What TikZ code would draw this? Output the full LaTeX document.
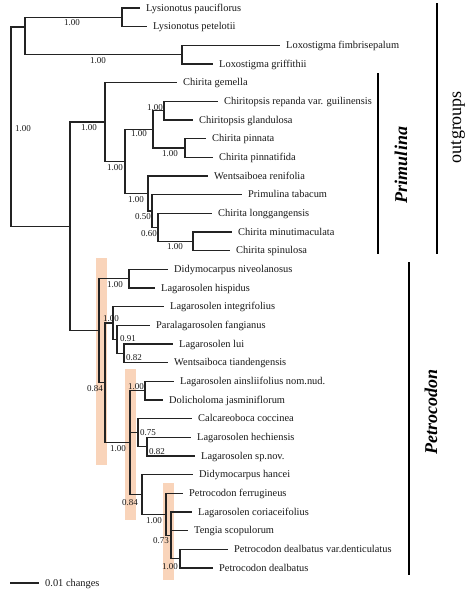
\documentclass[tikz,border=0pt]{standalone}
\usepackage{fontspec}
\setmainfont{Liberation Serif}
\newcommand\taxfont{\fontsize{10.4}{12}\selectfont}
\newcommand\supportfont{\fontsize{9}{10}\selectfont}
\newcommand\cladefont{\fontsize{18}{20}\selectfont}
\definecolor{linec}{RGB}{35,35,35}
\definecolor{txtc}{RGB}{25,25,25}
\definecolor{hlc}{RGB}{249,212,186}
\tikzset{
  br/.style={draw=linec, line width=1.1pt},
  taxon/.style={anchor=west, inner sep=0pt, font=\taxfont, text=txtc, text height=6.5pt, text depth=0pt},
  bsupport/.style={inner sep=0pt, font=\supportfont, text=txtc, text height=6pt, text depth=0pt},
  cladebar/.style={draw=black, line width=2.6pt},
  cladename/.style={rotate=90, inner sep=0pt, font=\cladefont, text=black},
  hilite/.style={fill=hlc, draw=none},
}
\begin{document}
\begin{tikzpicture}[x=1pt,y=-1pt]
\useasboundingbox (0,0) rectangle (474,592);
\fill[white] (0,0) rectangle (474,592);
% highlight bars
\fill[hilite] (96,258) rectangle (107,465);
\fill[hilite] (125,369) rectangle (136,520);
\fill[hilite] (163,483) rectangle (174,580);
% internal nodes
\coordinate (root) at (11,126.5);
\coordinate (og) at (25,27);
\coordinate (lys) at (122,17.3);
\coordinate (lox) at (182,54.7);
\coordinate (ing) at (70,226.3);
\coordinate (prim) at (105,122);
\coordinate (n125) at (125,161.2);
\coordinate (n153) at (153,129.3);
\coordinate (n164) at (164,110.7);
\coordinate (n185) at (185,148);
\coordinate (nA) at (148,193.5);
\coordinate (nB) at (152,211);
\coordinate (nC) at (158,227.3);
\coordinate (nD) at (193,241.3);
\coordinate (pX) at (99,330.7);
\coordinate (pN) at (129,278.7);
\coordinate (pY) at (105,382.8);
\coordinate (pZ) at (113,323);
\coordinate (pZb) at (117,339.3);
\coordinate (pZc) at (124,353.3);
\coordinate (pW) at (130,442.6);
\coordinate (pA) at (145,390.7);
\coordinate (pE) at (138,432.7);
\coordinate (pF) at (147,446.7);
\coordinate (pV) at (142,494.5);
\coordinate (pU) at (166,514.3);
\coordinate (pT) at (171,535.3);
\coordinate (pS) at (180,558.7);
% internal branches
\foreach \a/\b in {root/og, root/ing, og/lys, og/lox, ing/prim, ing/pX,
  prim/n125, n125/n153, n125/nA, n153/n164, n153/n185, nA/nB, nB/nC, nC/nD,
  pX/pN, pX/pY, pY/pZ, pY/pW, pZ/pZb, pZb/pZc, pW/pA, pW/pE, pW/pV, pE/pF,
  pV/pU, pU/pT, pT/pS}
  {\draw[br] (\a) |- (\b);}
% tips
\foreach \id/\px/\py/\pa/\txt in {
  t0/140/8.0/lys/Lysionotus pauciflorus,
  t1/147/26.7/lys/Lysionotus petelotii,
  t2/280/45.3/lox/Loxostigma fimbrisepalum,
  t3/213/64.0/lox/Loxostigma griffithii,
  t4/177/82.7/prim/Chirita gemella,
  t5/218/101.3/n164/Chiritopsis repanda var. guilinensis,
  t6/193/120.0/n164/Chiritopsis glandulosa,
  t7/206/138.7/n185/Chirita pinnata,
  t8/213/157.3/n185/Chirita pinnatifida,
  t9/208/176.0/nA/Wentsaiboea renifolia,
  t10/242/194.7/nB/Primulina tabacum,
  t11/212/213.3/nC/Chirita longgangensis,
  t12/232/232.0/nD/Chirita minutimaculata,
  t13/230/250.7/nD/Chirita spinulosa,
  t14/168/269.3/pN/Didymocarpus niveolanosus,
  t15/155/288.0/pN/Lagarosolen hispidus,
  t16/164/306.7/pZ/Lagarosolen integrifolius,
  t17/150/325.3/pZb/Paralagarosolen fangianus,
  t18/173/344.0/pZc/Lagarosolen lui,
  t19/168/362.7/pZc/Wentsaiboca tiandengensis,
  t20/174/381.3/pA/Lagarosolen ainsliifolius nom.nud.,
  t21/163/400.0/pA/Dolicholoma jasminiflorum,
  t22/192/418.7/pE/Calcareoboca coccinea,
  t23/191/437.3/pF/Lagarosolen hechiensis,
  t24/195/456.0/pF/Lagarosolen sp.nov.,
  t25/193/474.7/pV/Didymocarpus hancei,
  t26/183/493.3/pU/Petrocodon ferrugineus,
  t27/192/512.0/pT/Lagarosolen coriaceifolius,
  t28/188/530.7/pT/Tengia scopulorum,
  t29/228/549.3/pS/Petrocodon dealbatus var.denticulatus,
  t30/213/568.0/pS/Petrocodon dealbatus}
{
  \coordinate (\id) at (\px,\py);
  \draw[br] (\pa) |- (\id);
  \node[taxon] (\id-l) at ([xshift=6pt]\id) {\txt};
}
% support values
\foreach \n/\sx/\sy/\v in {
  s1/72/22/1.00, s2/98/60/1.00, s3/23/128/1.00, s4/89/127/1.00,
  s5/155/107/1.00, s6/139/133/1.00, s7/170/153/1.00, s8/115/167/1.00,
  s9/136/199/1.00, s10/143/216/0.50, s11/149/233/0.60, s12/175/246/1.00,
  s13/115/284/1.00, s14/111/318/1.00, s15/128/338/0.91, s16/134/357/0.82,
  s17/95/388/0.84, s18/118/448/1.00, s19/136/386/1.00, s20/148/432/0.75,
  s21/157/451/0.82, s22/130/502/0.84, s23/154/520/1.00, s24/161/540/0.73,
  s25/170/566/1.00}
  {\node[bsupport] (\n) at (\sx,\sy) {\v};}
% clade bars
\coordinate (ogT) at (437,3);
\coordinate (ogB) at (437,254);
\draw[cladebar] (ogT) -- (ogB);
\node[cladename] (ogL) at (458,127) {outgroups};
\coordinate (prT) at (378,73);
\coordinate (prB) at (378,254);
\draw[cladebar] (prT) -- (prB);
\node[cladename, font=\cladefont\bfseries\itshape] (prL) at (401,165) {Primulina};
\coordinate (peT) at (409,262);
\coordinate (peB) at (409,575);
\draw[cladebar] (peT) -- (peB);
\node[cladename, font=\cladefont\bfseries\itshape] (peL) at (431,412) {Petrocodon};
% scale bar
\coordinate (scA) at (10,583);
\coordinate (scB) at (39,583);
\draw[br] (scA) -- (scB);
\node[taxon] (scL) at ([xshift=6pt]scB) {0.01 changes};
\end{tikzpicture}
\end{document}
